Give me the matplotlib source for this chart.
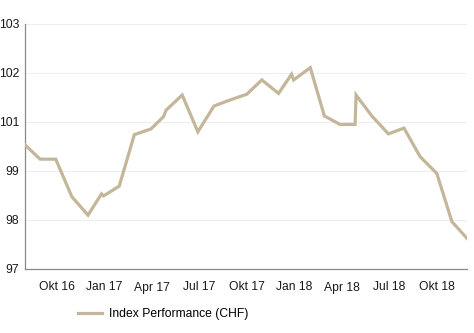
import matplotlib
matplotlib.use("Agg")
import matplotlib.pyplot as plt
import pandas as pd
import numpy as np

plt.rcParams["font.family"] = ["Liberation Sans", "DejaVu Sans"]

# Index performance series (CHF)
dates = [
    "2016-08-01", "2016-08-30", "2016-09-29", "2016-10-30", "2016-11-30",
    "2016-12-26", "2016-12-30", "2017-01-29", "2017-02-27", "2017-03-31",
    "2017-04-24", "2017-04-29", "2017-05-30", "2017-06-29", "2017-07-30",
    "2017-08-30", "2017-10-01", "2017-10-30", "2017-12-01", "2017-12-26",
    "2017-12-30", "2018-01-31", "2018-02-27", "2018-03-29", "2018-04-27",
    "2018-04-29", "2018-05-29", "2018-06-30", "2018-07-30", "2018-08-30",
    "2018-10-01", "2018-10-30", "2018-11-28",
]
values = [
    100.04, 99.69, 99.69, 98.77, 98.32,
    98.84, 98.79, 99.03, 100.29, 100.43,
    100.73, 100.89, 101.26, 100.36, 100.99,
    101.14, 101.28, 101.63, 101.30, 101.77,
    101.63, 101.93, 100.75, 100.54, 100.54,
    101.26, 100.75, 100.31, 100.45, 99.75,
    99.34, 98.16, 97.75,
]
series_label = "Index Performance (CHF)"

tick_dates = ["2016-10-01", "2017-01-01", "2017-04-01", "2017-07-01", "2017-10-01",
              "2018-01-01", "2018-04-01", "2018-07-01", "2018-10-01"]
tick_labels = ["Okt 16", "Jan 17", "Apr 17", "Jul 17", "Okt 17",
               "Jan 18", "Apr 18", "Jul 18", "Okt 18"]

y_min, y_max = 97, 103

x = pd.to_datetime(dates)
xt = pd.to_datetime(tick_dates)

fig = plt.figure(figsize=(4.74, 3.33), dpi=100)
ax = fig.add_axes([25 / 474, 1 - 269 / 333, (467 - 25) / 474, (269 - 24) / 333])

line_color = "#C3B699"
ax.plot(x, values, color=line_color, lw=2.3, solid_joinstyle="miter",
        label=series_label, zorder=3)

ax.set_xlim(x[0], x[-1])
ax.set_ylim(y_min, y_max)

yt = np.linspace(y_min, y_max, 6)
ax.set_yticks(yt)
ax.set_yticklabels([f"{v:.0f}" for v in yt])
ax.set_xticks(xt)
ax.set_xticklabels(tick_labels)

ax.grid(axis="y", color="#eeeeee", lw=0.8, zorder=0)
ax.tick_params(axis="both", length=0, labelsize=8.7, colors="#1a1a1a")
ax.tick_params(axis="y", pad=4)
ax.tick_params(axis="x", pad=9)

for s in ["top", "right"]:
    ax.spines[s].set_visible(False)
ax.spines["left"].set_color("#8a8a8a")
ax.spines["bottom"].set_color("#8a8a8a")
ax.spines["left"].set_linewidth(0.9)
ax.spines["bottom"].set_linewidth(0.9)

fig.legend(loc="center left", bbox_to_anchor=(78 / 474, 1 - 314 / 333),
           frameon=False, fontsize=8.7, handlelength=2.0, handletextpad=0.6,
           borderpad=0, borderaxespad=0)

fig.savefig("out.png", dpi=100)
